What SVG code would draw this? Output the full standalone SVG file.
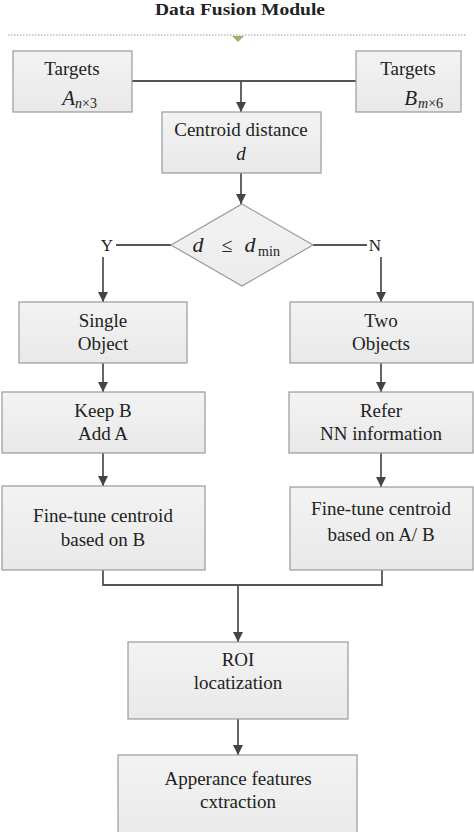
<svg xmlns="http://www.w3.org/2000/svg" width="474" height="832" viewBox="0 0 474 832">
<defs>
<linearGradient id="g" x1="0" y1="0" x2="0" y2="1">
<stop offset="0" stop-color="#f3f3f3"/>
<stop offset="1" stop-color="#e9e9e9"/>
</linearGradient>
<linearGradient id="gd" x1="0" y1="0" x2="0" y2="1">
<stop offset="0" stop-color="#f2f2f2"/>
<stop offset="1" stop-color="#ececec"/>
</linearGradient>
<marker id="arr" markerUnits="userSpaceOnUse" markerWidth="10" markerHeight="10" refX="10" refY="5" orient="auto">
<path d="M0,0 L10,5 L0,10 z" fill="#444"/>
</marker>
<style>
.box{fill:url(#g);stroke:#9a9a9a;stroke-width:1.2}
text{font-family:'Liberation Serif','DejaVu Serif',serif;font-size:19px;fill:#222;text-anchor:middle}
.i{font-style:italic}
.s{font-size:14px}
.ln{fill:none;stroke:#555;stroke-width:1.8}
.a{marker-end:url(#arr)}
</style>
</defs>

<text x="240" y="15" style="font-weight:bold;font-size:17px" textLength="170" lengthAdjust="spacingAndGlyphs">Data Fusion Module</text>
<line x1="8" y1="35" x2="466" y2="35" stroke="#999" stroke-width="1.2" stroke-dasharray="1.5,1.5"/>
<path d="M232,36 L244,36 L238,42 z" fill="#a3ad70"/>

<g id="connectors">
<path class="ln" d="M132,81 L356,81"/>
<path class="ln a" d="M241,81 L241,112"/>
<path class="ln a" d="M241,173 L241,204"/>
<path class="ln" d="M116,245 L171,245"/>
<path class="ln" d="M313,245 L367,245"/>
<path class="ln a" d="M103,257 L103,302"/>
<path class="ln a" d="M381,257 L381,302"/>
<path class="ln a" d="M103,363 L103,392"/>
<path class="ln a" d="M381,363 L381,392"/>
<path class="ln a" d="M103,453 L103,486"/>
<path class="ln a" d="M381,453 L381,487"/>
<path class="ln" d="M103,570 L103,585 L382,585 L382,570"/>
<path class="ln a" d="M238,585 L238,642"/>
<path class="ln a" d="M238,719 L238,755"/>
</g>

<g id="targetsA">
<rect class="box" x="13" y="51" width="119" height="61"/>
<text x="72" y="75">Targets</text>
<text x="75" y="105" class="i" style="text-anchor:end;font-size:21px">A</text>
<text x="75" y="108" class="s" style="text-anchor:start"><tspan class="i">n</tspan>×3</text>
</g>

<g id="targetsB">
<rect class="box" x="356" y="51" width="105" height="61"/>
<text x="408" y="75">Targets</text>
<text x="417" y="105" class="i" style="text-anchor:end;font-size:21px">B</text>
<text x="418" y="108" class="s" style="text-anchor:start"><tspan class="i">m</tspan>×6</text>
</g>

<g id="centroid">
<rect class="box" x="162" y="112" width="159" height="61"/>
<text x="241" y="136">Centroid distance</text>
<text x="241" y="160" class="i">d</text>
</g>

<g id="decision">
<path d="M242,204 L313,245 L242,286 L171,245 z" fill="url(#gd)" stroke="#9a9a9a" stroke-width="1.2"/>
<text x="198" y="252" class="i" style="font-size:22px">d</text>
<text x="227" y="252" style="font-size:20px">≤</text>
<text x="250" y="252" class="i" style="font-size:22px">d</text>
<text x="269" y="256" class="s">min</text>
<text x="107" y="251" style="font-size:17px">Y</text>
<text x="375" y="251" style="font-size:17px">N</text>
</g>

<g id="single">
<rect class="box" x="19" y="302" width="168" height="61"/>
<text x="103" y="327">Single</text>
<text x="103" y="350">Object</text>
</g>

<g id="two">
<rect class="box" x="290" y="302" width="183" height="61"/>
<text x="381" y="327">Two</text>
<text x="381" y="350">Objects</text>
</g>

<g id="keep">
<rect class="box" x="2" y="392" width="203" height="61"/>
<text x="103" y="417">Keep B</text>
<text x="103" y="440">Add A</text>
</g>

<g id="refer">
<rect class="box" x="289" y="392" width="184" height="61"/>
<text x="381" y="417">Refer</text>
<text x="381" y="440">NN information</text>
</g>

<g id="fineL">
<rect class="box" x="2" y="486" width="203" height="84"/>
<text x="103" y="522">Fine-tune centroid</text>
<text x="103" y="546">based on B</text>
</g>

<g id="fineR">
<rect class="box" x="290" y="487" width="183" height="83"/>
<text x="381" y="515">Fine-tune centroid</text>
<text x="381" y="541">based on A/ B</text>
</g>

<g id="roi">
<rect class="box" x="128" y="642" width="220" height="77"/>
<text x="238" y="666">ROI</text>
<text x="238" y="689">locatization</text>
</g>

<g id="appearance">
<rect class="box" x="118" y="755" width="239" height="90"/>
<text x="238" y="785">Apperance features</text>
<text x="238" y="808">cxtraction</text>
</g>
</svg>
